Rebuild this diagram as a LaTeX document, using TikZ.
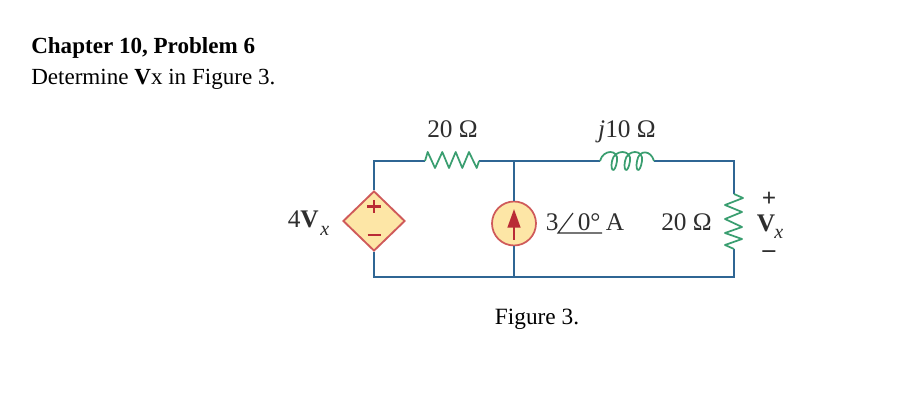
\documentclass[tikz,border=0pt]{standalone}
\usepackage{fontspec}
\setmainfont{Liberation Serif}
\definecolor{wire}{HTML}{2F6694}
\definecolor{elem}{HTML}{3A9E70}
\definecolor{srcedge}{HTML}{CF5A5A}
\definecolor{srcfill}{HTML}{FDE6A6}
\definecolor{srcmark}{HTML}{B92B35}
\definecolor{ink}{HTML}{2E2E2E}
\usetikzlibrary{shapes.geometric,arrows.meta}
\tikzset{
  x=0.75pt,y=-0.75pt,
  wireline/.style={draw=wire,line width=1.3pt,line join=miter},
  elemline/.style={draw=elem,line width=1.3pt,line join=round},
  title/.style={anchor=base west,inner sep=0pt,text=black,font=\fontsize{17.3pt}{19pt}\selectfont},
  lbl/.style={anchor=base,inner sep=0pt,text=ink,font=\fontsize{19pt}{21pt}\selectfont},
  depsrc/.style={diamond,draw=srcedge,fill=srcfill,line width=1.4pt,minimum width=46.5pt,minimum height=45pt,inner sep=0pt},
  cursrc/.style={circle,draw=srcedge,fill=srcfill,line width=1.3pt,minimum size=33pt,inner sep=0pt},
}
\begin{document}
\begin{tikzpicture}
\useasboundingbox (0,0) rectangle (918,402);
\fill[white] (0,0) rectangle (918,402);
\node[title] (t1) at (31,54) {\textbf{Chapter 10, Problem 6}};
\node[title] (t2) at (31,85) {Determine \textbf{V}x in Figure 3.};
% junctions and corners
\coordinate (tl) at (374,161);
\coordinate (tm) at (514,161);
\coordinate (tr) at (734,161);
\coordinate (bl) at (374,277);
\coordinate (bm) at (514,277);
\coordinate (br) at (734,277);
\coordinate (r1a) at (425,161);
\coordinate (r1b) at (479,161);
\coordinate (l1a) at (600,161);
\coordinate (l1b) at (654,161);
\coordinate (r2a) at (734,194);
\coordinate (r2b) at (734,249);
\node[depsrc] (dep) at (374,221) {};
\node[cursrc] (src) at (514,223.5) {};
% wires
\draw[wireline] (dep.north) -- (tl) -- (r1a);
\draw[wireline] (r1b) -- (tm) -- (l1a);
\draw[wireline] (l1b) -- (tr) -- (r2a);
\draw[wireline] (r2b) -- (br) -- (bl) -- (dep.south);
\draw[wireline] (tm) -- (src.north);
\draw[wireline] (src.south) -- (bm);
% 20 ohm horizontal
\draw[elemline] (r1a) -- (427.7,152) -- (435,168) -- (442.3,152) -- (449,168) -- (455.7,152) -- (462.3,168) -- (469,152) -- (476.7,168) -- (r1b);
% inductor
\draw[elemline] (l1a) .. controls (603,149) and (619,149) .. (617,161)
  .. controls (615,174) and (610,172) .. (612,161)
  .. controls (614,149) and (632,149) .. (630,161)
  .. controls (628,174) and (623,172) .. (625,161)
  .. controls (627,149) and (644,149) .. (642,161)
  .. controls (640,174) and (635,172) .. (637,161)
  .. controls (639,149) and (651,150) .. (l1b);
% 20 ohm vertical
\draw[elemline] (r2a) -- (743,198) -- (725,205) -- (742,212) -- (725,219) -- (742,227) -- (725,233) -- (742,239) -- (725,245) -- (r2b);
% dependent source marks
\draw[srcmark,line width=1.6pt] (367,206.5) -- (381,206.5) (374,200) -- (374,213);
\draw[srcmark,line width=2pt] (367.5,235) -- (380.5,235);
% current arrow
\draw[srcmark,line width=1.8pt,-{Triangle[length=14pt,width=9.5pt]}] (514,240) -- (514,209);
% labels
\node[lbl] (n1) at (452.5,138) {20 Ω};
\node[lbl] (n2) at (627,138) {\textit{j}10 Ω};
\node[lbl,anchor=base west] (n3) at (287.5,228) {4\textbf{V}};
\node[lbl,anchor=base west] (n3x) at (320,236) {\fontsize{15pt}{16pt}\selectfont\textit{x}};
\node[lbl,anchor=base west] (n4) at (545.5,231) {3};
\coordinate (angA) at (573,213);
\coordinate (angB) at (558,233);
\coordinate (angC) at (602,233);
\draw[ink,line width=0.9pt] (angA) -- (angB) -- (angC);
\node[lbl,anchor=base west] (n5) at (577.5,231) {0°};
\node[lbl,anchor=base west] (n6) at (605.5,231) {A};
\node[lbl,anchor=base west] (n7) at (661,231) {20 Ω};
\node[lbl] (n8) at (769,207) {\textbf{+}};
\node[lbl,anchor=base west] (n9) at (756.5,232) {\textbf{V}};
\node[lbl,anchor=base west] (n9x) at (774,239) {\fontsize{15pt}{16pt}\selectfont\textit{x}};
\node[lbl] (n10) at (769,258) {\textbf{--}};
\node[lbl,text=black,font=\fontsize{17.5pt}{19pt}\selectfont] (cap) at (537,324.5) {Figure 3.};
\end{tikzpicture}
\end{document}
